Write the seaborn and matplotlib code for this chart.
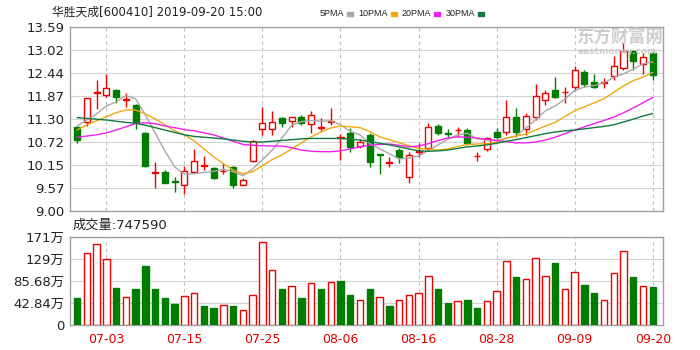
import numpy as np
import pandas as pd
import matplotlib
matplotlib.use("Agg")
import matplotlib.pyplot as plt
import seaborn as sns
from matplotlib.patches import Rectangle

# ---------------- data ----------------
dates = ["06-28",
         "07-01", "07-02", "07-03", "07-04", "07-05",
         "07-08", "07-09", "07-10", "07-11", "07-12",
         "07-15", "07-16", "07-17", "07-18", "07-19",
         "07-22", "07-23", "07-24", "07-25", "07-26",
         "07-29", "07-30", "07-31", "08-01", "08-02",
         "08-05", "08-06", "08-07", "08-08", "08-09",
         "08-12", "08-13", "08-14", "08-15", "08-16",
         "08-19", "08-20", "08-21", "08-22", "08-23",
         "08-26", "08-27", "08-28", "08-29", "08-30",
         "09-02", "09-03", "09-04", "09-05", "09-06",
         "09-09", "09-10", "09-11", "09-12",
         "09-16", "09-17", "09-18", "09-19", "09-20"]

opens = [11.09, 11.23, 11.94, 11.89, 12.03, 11.77, 11.64, 10.95, 9.95, 9.98,
         9.75, 9.65, 9.98, 10.12, 10.08, 9.99, 10.10, 9.65, 10.25, 11.04,
         11.05, 11.31, 11.25, 11.34, 11.17, 11.08, 11.22, 10.83, 10.95, 10.62,
         10.90, 10.42, 10.19, 10.52, 9.86, 10.47, 10.56, 11.12, 10.95, 11.01,
         11.02, 10.36, 10.54, 10.98, 10.98, 11.35, 11.04, 11.35, 11.77, 12.03,
         11.96, 12.10, 12.47, 12.22, 12.19, 12.37, 12.56, 13.00, 12.67, 12.95]
highs = [11.12, 11.83, 12.28, 12.42, 12.05, 11.94, 11.67, 10.96, 10.23, 10.02,
         9.86, 10.12, 10.54, 10.37, 10.10, 10.20, 10.12, 9.82, 10.78, 11.59,
         11.50, 11.35, 11.35, 11.39, 11.50, 11.31, 11.56, 10.92, 11.08, 10.79,
         10.94, 10.43, 10.34, 10.56, 10.48, 10.69, 11.20, 11.17, 11.04, 11.09,
         11.06, 10.48, 10.85, 11.06, 11.77, 11.56, 11.45, 12.17, 12.03, 12.35,
         12.10, 12.62, 12.52, 12.43, 12.33, 12.87, 13.20, 13.01, 12.93, 12.97]
lows = [10.69, 11.12, 11.54, 11.84, 11.70, 11.60, 11.04, 10.11, 9.57, 9.70,
        9.48, 9.42, 9.94, 10.02, 9.81, 9.92, 9.57, 9.64, 10.22, 10.90,
        10.90, 11.09, 11.09, 11.14, 10.94, 11.00, 11.14, 10.27, 10.48, 10.56,
        10.09, 9.92, 10.10, 10.19, 9.71, 10.35, 10.50, 10.90, 10.84, 10.85,
        10.65, 10.25, 10.50, 10.79, 10.90, 10.85, 10.90, 11.27, 11.64, 11.81,
        11.70, 12.00, 12.10, 12.08, 12.06, 12.28, 12.52, 12.52, 12.42, 12.27]
closes = [10.78, 11.81, 11.97, 12.06, 11.84, 11.80, 11.23, 10.12, 9.98, 9.71,
          9.72, 10.00, 10.25, 10.14, 9.83, 10.01, 9.65, 9.77, 10.75, 11.20,
          11.21, 11.19, 11.34, 11.19, 11.39, 11.10, 11.24, 10.85, 10.59, 10.73,
          10.23, 10.40, 10.21, 10.34, 10.40, 10.49, 11.10, 10.94, 10.93, 11.03,
          10.70, 10.38, 10.81, 10.84, 11.35, 10.98, 11.38, 11.87, 11.94, 11.84,
          11.98, 12.52, 12.18, 12.10, 12.21, 12.62, 13.00, 12.75, 12.85, 12.39]

# volume in 万 (10,000 shares)
volumes = [52, 141, 158, 128, 73, 54, 71, 114, 71, 52,
           41, 56, 62, 37, 34, 39, 37, 29, 58, 161,
           108, 69.5, 76, 52, 81, 71, 84, 86, 58, 49,
           69.5, 54, 37, 49, 58, 62, 95, 69.5, 43, 47,
           49, 34, 47, 66, 125, 93, 89, 130, 95, 120,
           71, 103, 78, 62, 49, 101, 145, 93, 76, 74.759]
# 1 = red (hollow) volume bar, 0 = green (filled)
vol_up = [0, 1, 1, 1, 0, 1, 0, 0, 0, 0,
          0, 1, 1, 0, 0, 1, 0, 1, 1, 1,
          1, 0, 1, 0, 1, 0, 1, 0, 0, 1,
          0, 1, 0, 1, 1, 1, 1, 0, 0, 1,
          0, 0, 1, 1, 1, 0, 1, 1, 1, 0,
          1, 1, 0, 0, 1, 1, 1, 0, 1, 0]

ma5 = [11.12, 11.27, 11.42, 11.62, 11.72, 11.88, 11.80, 11.40, 10.95, 10.50,
       10.10, 9.92, 9.93, 9.96, 9.99, 10.04, 9.98, 9.88, 10.05, 10.28,
       10.52, 10.82, 11.14, 11.23, 11.26, 11.24, 11.25, 11.15, 10.99, 10.90,
       10.68, 10.55, 10.43, 10.30, 10.32, 10.37, 10.51, 10.65, 10.79, 10.90,
       10.94, 10.80, 10.77, 10.75, 10.82, 10.87, 11.07, 11.28, 11.50, 11.62,
       11.79, 12.01, 12.09, 12.13, 12.20, 12.33, 12.42, 12.54, 12.67, 12.72]
ma10 = [11.02, 11.15, 11.25, 11.35, 11.45, 11.52, 11.52, 11.42, 11.30, 11.15,
        11.00, 10.90, 10.75, 10.55, 10.35, 10.18, 10.02, 9.93, 9.98, 10.13,
        10.28, 10.40, 10.55, 10.70, 10.85, 10.97, 11.07, 11.12, 11.10, 11.08,
        10.98, 10.85, 10.78, 10.70, 10.63, 10.56, 10.54, 10.52, 10.55, 10.61,
        10.66, 10.67, 10.68, 10.72, 10.82, 10.87, 10.92, 11.02, 11.12, 11.21,
        11.36, 11.50, 11.60, 11.70, 11.80, 11.96, 12.12, 12.25, 12.34, 12.46]
ma20 = [10.84, 10.87, 10.90, 10.95, 11.02, 11.10, 11.18, 11.20, 11.18, 11.12,
        11.08, 11.03, 11.00, 10.95, 10.90, 10.82, 10.74, 10.66, 10.64, 10.63,
        10.62, 10.62, 10.58, 10.52, 10.49, 10.48, 10.48, 10.50, 10.55, 10.60,
        10.64, 10.66, 10.67, 10.64, 10.60, 10.62, 10.68, 10.76, 10.82, 10.85,
        10.84, 10.82, 10.79, 10.76, 10.73, 10.70, 10.70, 10.72, 10.77, 10.84,
        10.93, 11.02, 11.10, 11.18, 11.26, 11.34, 11.45, 11.57, 11.70, 11.83]
ma30 = [11.33, 11.31, 11.29, 11.27, 11.24, 11.21, 11.19, 11.14, 11.08, 11.02,
        10.96, 10.90, 10.86, 10.84, 10.82, 10.80, 10.77, 10.74, 10.72, 10.72,
        10.74, 10.76, 10.78, 10.80, 10.81, 10.81, 10.81, 10.81, 10.79, 10.77,
        10.73, 10.69, 10.65, 10.60, 10.55, 10.50, 10.49, 10.50, 10.52, 10.56,
        10.60, 10.62, 10.65, 10.69, 10.74, 10.78, 10.83, 10.88, 10.93, 10.97,
        11.00, 11.02, 11.05, 11.08, 11.11, 11.15, 11.22, 11.29, 11.37, 11.43]

price_tick_labels = ["9.00", "9.57", "10.15", "10.72", "11.30",
                     "11.87", "12.44", "13.02", "13.59"]
vol_tick_labels = ["0", "42.84万", "85.68万", "129万", "171万"]
date_tick_labels = ["07-03", "07-15", "07-25", "08-06",
                    "08-16", "08-28", "09-09", "09-20"]
title_text = "华胜天成[600410] 2019-09-20 15:00"
volume_text = "成交量:747590"
ma_names = ["5PMA", "10PMA", "20PMA", "30PMA"]

# ---------------- style ----------------
sns.set_theme(style="white")
plt.rcParams["font.family"] = ["DejaVu Sans", "Noto Sans CJK SC"]

RED = "#f00000"
GREEN = "#007d00"
MA_COLORS = ["#a8a8a8", "#f0a810", "#f020f0", "#127a40"]
GRID = "#d4d4d4"
SPINE = "#a0a0a0"

df = pd.DataFrame({"idx": np.arange(1, len(dates) + 1), "date": dates,
                   "open": opens, "high": highs, "low": lows, "close": closes,
                   "vol": volumes, "vol_up": vol_up,
                   "5PMA": ma5, "10PMA": ma10, "20PMA": ma20, "30PMA": ma30})

fig = plt.figure(figsize=(7, 3.5), dpi=100)
W, H = 700.0, 350.0
axp = fig.add_axes([70 / W, 1 - 211 / H, 593 / W, 184 / H])
axv = fig.add_axes([70 / W, 1 - 325 / H, 593 / W, 88 / H])

x = df["idx"].to_numpy()
o = df["open"].to_numpy()
c = df["close"].to_numpy()
hi = df["high"].to_numpy()
lo = df["low"].to_numpy()
up = c >= o

# ---------------- price panel ----------------
price_ticks = np.linspace(9.0, 13.59, len(price_tick_labels))
tick_pos = [dates.index(d) + 1 for d in date_tick_labels]

for ax in (axp, axv):
    ax.set_xlim(0.28, 61.05)
    for tp in tick_pos:
        ax.axvline(tp, color="#bdbdbd", lw=0.8, ls=(0, (3, 3)), zorder=0)
    for s in ax.spines.values():
        s.set_color(SPINE)
        s.set_linewidth(1.0)
        s.set_visible(True)

for yv in price_ticks:
    axp.axhline(yv, color=GRID, lw=0.8, zorder=0)

cols = np.where(up, RED, GREEN)
# wicks
axp.vlines(x, lo, np.minimum(o, c), colors=cols, lw=1.0, zorder=2)
axp.vlines(x, np.maximum(o, c), hi, colors=cols, lw=1.0, zorder=2)
body_bottom = np.minimum(o, c)
body_h = np.maximum(np.abs(c - o), 0.012)
axp.bar(x[up], body_h[up], bottom=body_bottom[up], width=0.62,
        facecolor="white", edgecolor=RED, linewidth=1.0, zorder=3)
axp.bar(x[~up], body_h[~up], bottom=body_bottom[~up], width=0.62,
        facecolor=GREEN, edgecolor=GREEN, linewidth=1.0, zorder=3)

for name, col in zip(ma_names, MA_COLORS):
    sns.lineplot(data=df, x="idx", y=name, ax=axp, color=col, lw=1.0,
                 zorder=4, legend=False)

axp.set_ylim(9.0, 13.59)
axp.set_yticks(price_ticks)
axp.set_yticklabels(price_tick_labels)
axp.set_xticks(tick_pos)
axp.set_xticklabels([])
axp.set_xlabel("")
axp.set_ylabel("")
axp.tick_params(axis="both", length=0, pad=4, labelsize=9.5, labelcolor="#222222")

# ---------------- volume panel ----------------
vol_ticks = np.linspace(0, 171.36, len(vol_tick_labels))
for yv in vol_ticks:
    axv.axhline(yv, color=GRID, lw=0.8, zorder=0)
vu = df["vol_up"].to_numpy() == 1
vv = df["vol"].to_numpy()
axv.bar(x[vu], vv[vu], width=0.66, facecolor="white", edgecolor=RED,
        linewidth=1.0, zorder=3)
axv.bar(x[~vu], vv[~vu], width=0.66, facecolor=GREEN, edgecolor=GREEN,
        linewidth=1.0, zorder=3)
axv.set_ylim(0, 171.36)
axv.set_yticks(vol_ticks)
axv.set_yticklabels(vol_tick_labels)
axv.set_xticks(tick_pos)
axv.set_xticklabels(date_tick_labels)
axv.set_xlabel("")
axv.set_ylabel("")
axv.tick_params(axis="y", length=0, pad=4, labelsize=9.5, labelcolor="#222222")
axv.tick_params(axis="x", length=0, pad=6, labelsize=9, labelcolor="#e00000")

# ---------------- texts ----------------
fig.text(52 / W, 1 - 12.5 / H, title_text, fontsize=8.5, color="#222222",
         ha="left", va="center",
         family=["DejaVu Sans", "Noto Sans CJK SC"])
fig.text(73 / W, 1 - 225.5 / H, volume_text, fontsize=9.5, color="#222222",
         ha="left", va="center",
         family=["DejaVu Sans", "Noto Sans CJK SC"])

legend_mark_x = [346.5, 390.5, 434.0, 478.0]
for name, col, mx in zip(ma_names, MA_COLORS, legend_mark_x):
    fig.text((mx - 2.5) / W, 1 - 14 / H, name, fontsize=6.5, color="#222222",
             ha="right", va="center", family=["Liberation Sans"])
    fig.patches.append(Rectangle((mx / W, 1 - 16 / H), 6 / W, 3.5 / H,
                                 transform=fig.transFigure, color=col))

# watermark
fig.text(577 / W, 1 - 37 / H, "东方财富网", fontsize=12.5, color="#c8c8c8",
         ha="left", va="center", weight="bold",
         family=["Noto Sans CJK SC"], alpha=0.9, zorder=10)
fig.text(578 / W, 1 - 52 / H, "eastmoney.com", fontsize=6.5, color="#c8c8c8",
         ha="left", va="center", weight="bold", alpha=0.9, zorder=10)

fig.savefig("out.png", dpi=100)
